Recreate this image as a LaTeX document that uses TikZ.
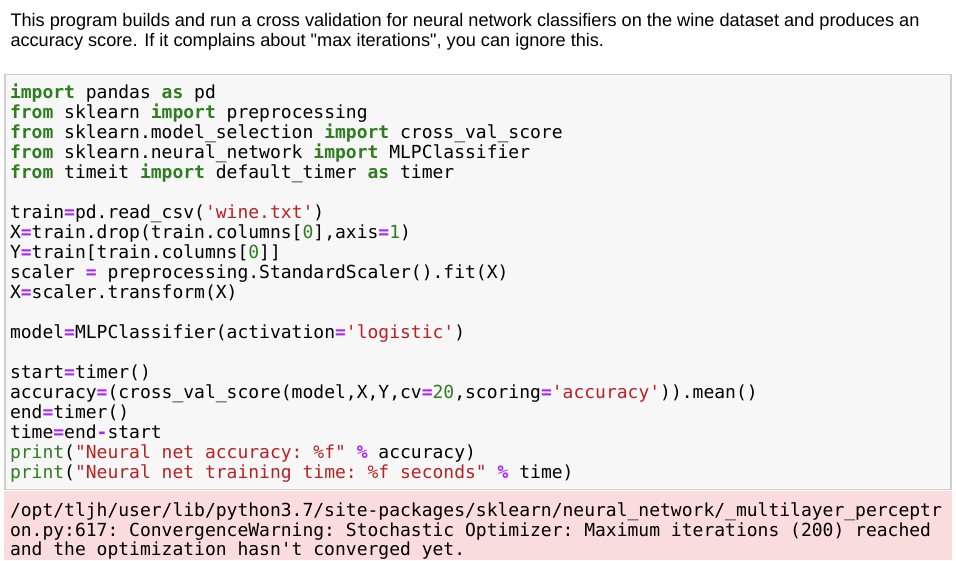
\documentclass[tikz,border=0pt]{standalone}
\usepackage{fontspec}
\setmainfont{Liberation Sans}[Ligatures=TeXOff]
\setmonofont{DejaVu Sans Mono}
\definecolor{kwgreen}{HTML}{2E7D1E}
\definecolor{opurple}{HTML}{AA22FF}
\definecolor{strred}{HTML}{BA2121}
\definecolor{codebg}{HTML}{F7F7F7}
\definecolor{codeline}{HTML}{CFCFCF}
\definecolor{warnbg}{HTML}{FADCDC}
\newcommand{\kwd}[1]{\textcolor{kwgreen}{\bfseries #1}}
\newcommand{\bif}[1]{\textcolor{kwgreen}{#1}}
\newcommand{\opr}[1]{\textcolor{opurple}{\bfseries #1}}
\newcommand{\strg}[1]{\textcolor{strred}{#1}}
\tikzset{
  codeln/.style={anchor=base west,inner sep=0pt,outer sep=0pt,font=\ttfamily\fontsize{18}{20}\selectfont},
  proseln/.style={anchor=base west,inner sep=0pt,outer sep=0pt,font=\rmfamily\fontsize{18.15}{20}\selectfont},
}
\begin{document}
\begin{tikzpicture}[x=1pt,y=-1pt]
\useasboundingbox (0,0) rectangle (956,560);
\fill[white] (0,0) rectangle (956,560);
\draw[codeline,fill=codebg,line width=1.6pt] (5,74.5) rectangle (951,489.5);
\fill[warnbg] (4,491) rectangle (952,560);
\node[proseln] (p1) at (10.5,26) {This program builds and run a cross validation for neural network classifiers on the wine dataset and produces an};
\node[proseln] (p2) at (10.5,46) {accuracy score. If it complains about "max iterations", you can ignore this.};
\node[codeln] (l0) at (10,98) {\kwd{import} pandas \kwd{as} pd};
\node[codeln] (l1) at (10,118) {\kwd{from} sklearn \kwd{import} preprocessing};
\node[codeln] (l2) at (10,138) {\kwd{from} sklearn.model\_selection \kwd{import} cross\_val\_score};
\node[codeln] (l3) at (10,158) {\kwd{from} sklearn.neural\_network \kwd{import} MLPClassifier};
\node[codeln] (l4) at (10,178) {\kwd{from} timeit \kwd{import} default\_timer \kwd{as} timer};
\node[codeln] (l6) at (10,218) {train\opr{=}pd.read\_csv(\strg{'wine.txt'})};
\node[codeln] (l7) at (10,238) {X\opr{=}train.drop(train.columns[\bif{0}],axis\opr{=}\bif{1})};
\node[codeln] (l8) at (10,258) {Y\opr{=}train[train.columns[\bif{0}]]};
\node[codeln] (l9) at (10,278) {scaler \opr{=} preprocessing.StandardScaler().fit(X)};
\node[codeln] (l10) at (10,298) {X\opr{=}scaler.transform(X)};
\node[codeln] (l12) at (10,338) {model\opr{=}MLPClassifier(activation\opr{=}\strg{'logistic'})};
\node[codeln] (l14) at (10,378) {start\opr{=}timer()};
\node[codeln] (l15) at (10,398) {accuracy\opr{=}(cross\_val\_score(model,X,Y,cv\opr{=}\bif{20},scoring\opr{=}\strg{'accuracy'})).mean()};
\node[codeln] (l16) at (10,418) {end\opr{=}timer()};
\node[codeln] (l17) at (10,438) {time\opr{=}end\opr{-}start};
\node[codeln] (l18) at (10,458) {\bif{print}(\strg{"Neural net accuracy: \%f"} \opr{\%} accuracy)};
\node[codeln] (l19) at (10,478) {\bif{print}(\strg{"Neural net training time: \%f seconds"} \opr{\%} time)};
\node[codeln] (w0) at (10,516) {/opt/tljh/user/lib/python3.7/site-packages/sklearn/neural\_network/\_multilayer\_perceptr};
\node[codeln] (w1) at (10,536) {on.py:617: ConvergenceWarning: Stochastic Optimizer: Maximum iterations (200) reached};
\node[codeln] (w2) at (10,555.5) {and the optimization hasn't converged yet.};
\end{tikzpicture}
\end{document}
